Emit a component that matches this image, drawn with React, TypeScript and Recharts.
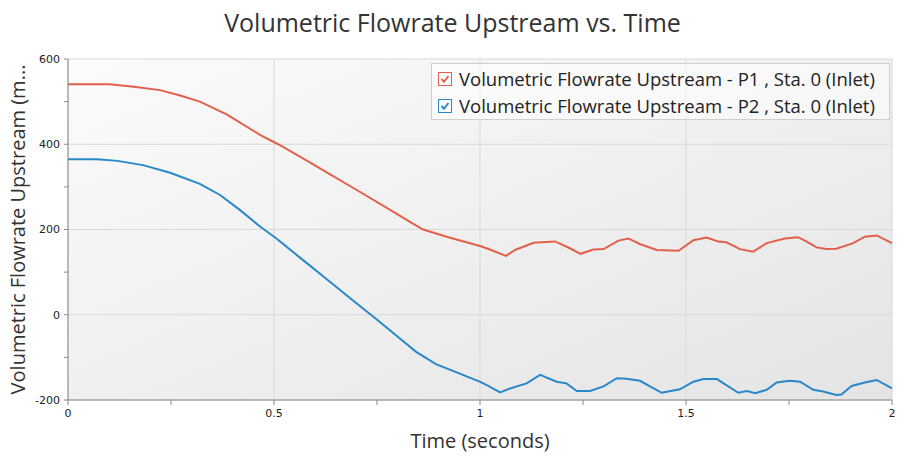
import React from 'react';
import { LineChart, Line, XAxis, YAxis, CartesianGrid } from 'recharts';

const chartTitle = 'Volumetric Flowrate Upstream vs. Time';
const xAxisTitle = 'Time (seconds)';
const yAxisTitle = 'Volumetric Flowrate Upstream (m...';
const seriesNames = [
  'Volumetric Flowrate Upstream - P1 , Sta. 0 (Inlet)',
  'Volumetric Flowrate Upstream - P2 , Sta. 0 (Inlet)',
];
const seriesColors = ['#e2604b', '#2a87c8'];

const p1Time = [0, 0.1, 0.16, 0.223, 0.27, 0.32, 0.385, 0.466, 0.51, 0.563, 0.626, 0.709, 0.789, 0.83, 0.862, 0.919, 1.004, 1.024, 1.063, 1.085, 1.13, 1.182, 1.218, 1.244, 1.275, 1.3, 1.336, 1.36, 1.388, 1.429, 1.482, 1.518, 1.55, 1.578, 1.598, 1.631, 1.663, 1.696, 1.74, 1.772, 1.792, 1.817, 1.841, 1.865, 1.906, 1.934, 1.963, 2.0];
const p1Flow = [541, 541, 535, 527, 515, 500, 470, 422, 400, 371, 335, 288, 242, 218, 200, 183, 160, 153, 138, 152, 169, 172, 156, 143, 153, 154, 174, 179, 166, 152, 150, 175, 181, 172, 170, 154, 148, 168, 179, 182, 172, 158, 154, 155, 168, 183, 186, 168];

const p2Time = [0, 0.07, 0.12, 0.182, 0.248, 0.32, 0.369, 0.417, 0.466, 0.506, 0.563, 0.626, 0.691, 0.748, 0.796, 0.845, 0.893, 0.951, 1.002, 1.02, 1.049, 1.073, 1.113, 1.146, 1.186, 1.21, 1.235, 1.267, 1.3, 1.332, 1.356, 1.388, 1.441, 1.485, 1.518, 1.542, 1.575, 1.627, 1.648, 1.668, 1.696, 1.72, 1.752, 1.777, 1.809, 1.833, 1.865, 1.877, 1.902, 1.934, 1.963, 2.0];
const p2Flow = [365, 365, 361, 351, 333, 307, 281, 246, 207, 179, 134, 85, 34, -10, -48, -87, -116, -138, -158, -167, -182, -173, -161, -141, -157, -161, -179, -179, -168, -149, -150, -155, -183, -175, -157, -151, -151, -183, -179, -184, -176, -159, -155, -157, -176, -180, -188, -187, -167, -159, -153, -173];

const xTicks = [0, 0.25, 0.5, 0.75, 1, 1.25, 1.5, 1.75, 2];
const xGrid = [0, 0.5, 1, 1.5, 2];
const yTicks = [-200, -100, 0, 100, 200, 300, 400, 500, 600];
const yGrid = [-200, 0, 200, 400, 600];

const p1Data = p1Time.map((t, i) => ({ t, v: p1Flow[i] }));
const p2Data = p2Time.map((t, i) => ({ t, v: p2Flow[i] }));

const FONT = '"Open Sans", "Noto Sans", sans-serif';
const TICK_FONT = '"DejaVu Sans", sans-serif';

const Check = ({ color }: { color: string }) => (
  <svg width={14} height={14} style={{ display: 'block' }}>
    <rect x={0.5} y={0.5} width={13} height={13} fill="#fff" stroke={color} strokeWidth={1} />
    <path d="M3.5 7 L6 9.8 L10.5 4" fill="none" stroke={color} strokeWidth={2} />
  </svg>
);

const LegendBox = () => (
  <div
    style={{
      position: 'absolute',
      left: 431,
      top: 63,
      background: 'rgba(255,255,255,0.55)',
      border: '1px solid #cfcfcf',
      boxSizing: 'border-box',
      width: 459,
      height: 57,
      paddingTop: 1,
      paddingLeft: 6,
      fontFamily: FONT,
      fontSize: 18.5,
      color: '#222',
    }}
  >
    {seriesNames.map((n, i) => (
      <div key={n} style={{ display: 'flex', alignItems: 'center', height: 27 }}>
        <Check color={seriesColors[i]} />
        <span style={{ marginLeft: 7, whiteSpace: 'nowrap' }}>{n}</span>
      </div>
    ))}
  </div>
);

const YLabel = (props: any) => {
  const vb = props.viewBox || {};
  const cy = (vb.y ?? 59) + (vb.height ?? 341) / 2;
  return (
    <text
      x={17}
      y={cy}
      transform={`rotate(-90, 17, ${cy})`}
      textAnchor="middle"
      dominantBaseline="central"
      fontFamily={FONT}
      fontSize={20}
      fill="#333"
    >
      {yAxisTitle}
    </text>
  );
};

const XLabel = (props: any) => {
  const vb = props.viewBox || {};
  const cx = (vb.x ?? 68) + (vb.width ?? 824) / 2;
  return (
    <text x={cx} y={440} textAnchor="middle" dominantBaseline="central" fontFamily={FONT} fontSize={20} fill="#333">
      {xAxisTitle}
    </text>
  );
};

export default function App() {
  return (
    <div style={{ position: 'absolute', left: 0, top: 0, width: 905, height: 457, background: '#fff' }}>
      <svg width={0} height={0} style={{ position: 'absolute' }}>
        <defs>
          <linearGradient id="plotBg" x1="0" y1="0" x2="1" y2="1">
            <stop offset="0%" stopColor="#fbfbfb" />
            <stop offset="100%" stopColor="#e4e4e4" />
          </linearGradient>
        </defs>
      </svg>
      <div
        style={{
          position: 'absolute',
          left: 0,
          top: 4,
          width: 905,
          textAlign: 'center',
          fontFamily: FONT,
          fontSize: 25,
          color: '#333',
          lineHeight: '36px',
        }}
      >
        {chartTitle}
      </div>
      <LineChart width={905} height={457} margin={{ top: 59, right: 13, bottom: 0, left: 0 }}>
        <CartesianGrid
          fill="url(#plotBg)"
          stroke="#d9d9d9"
          strokeWidth={1}
          horizontalValues={yGrid}
          verticalValues={xGrid}
        />
        <XAxis
          dataKey="t"
          type="number"
          domain={[0, 2]}
          ticks={xTicks}
          interval={0}
          allowDuplicatedCategory={false}
          tickFormatter={(v: number) => (Math.round(v * 2) === v * 2 ? String(v) : '')}
          height={57}
          tickSize={5}
          tickMargin={4}
          stroke="#888"
          tick={{ fill: '#222', fontSize: 11, fontFamily: TICK_FONT }}
          label={<XLabel />}
        />
        <YAxis
          type="number"
          domain={[-200, 600]}
          ticks={yTicks}
          interval={0}
          tickFormatter={(v: number) => (v % 200 === 0 ? String(v) : '')}
          width={68}
          tickSize={4}
          tickMargin={4}
          stroke="#888"
          tick={{ fill: '#222', fontSize: 11, fontFamily: TICK_FONT }}
          label={<YLabel />}
        />
        <Line data={p1Data} dataKey="v" name={seriesNames[0]} stroke={seriesColors[0]} strokeWidth={2} dot={false} type="linear" isAnimationActive={false} />
        <Line data={p2Data} dataKey="v" name={seriesNames[1]} stroke={seriesColors[1]} strokeWidth={2} dot={false} type="linear" isAnimationActive={false} />
      </LineChart>
      <LegendBox />
    </div>
  );
}
